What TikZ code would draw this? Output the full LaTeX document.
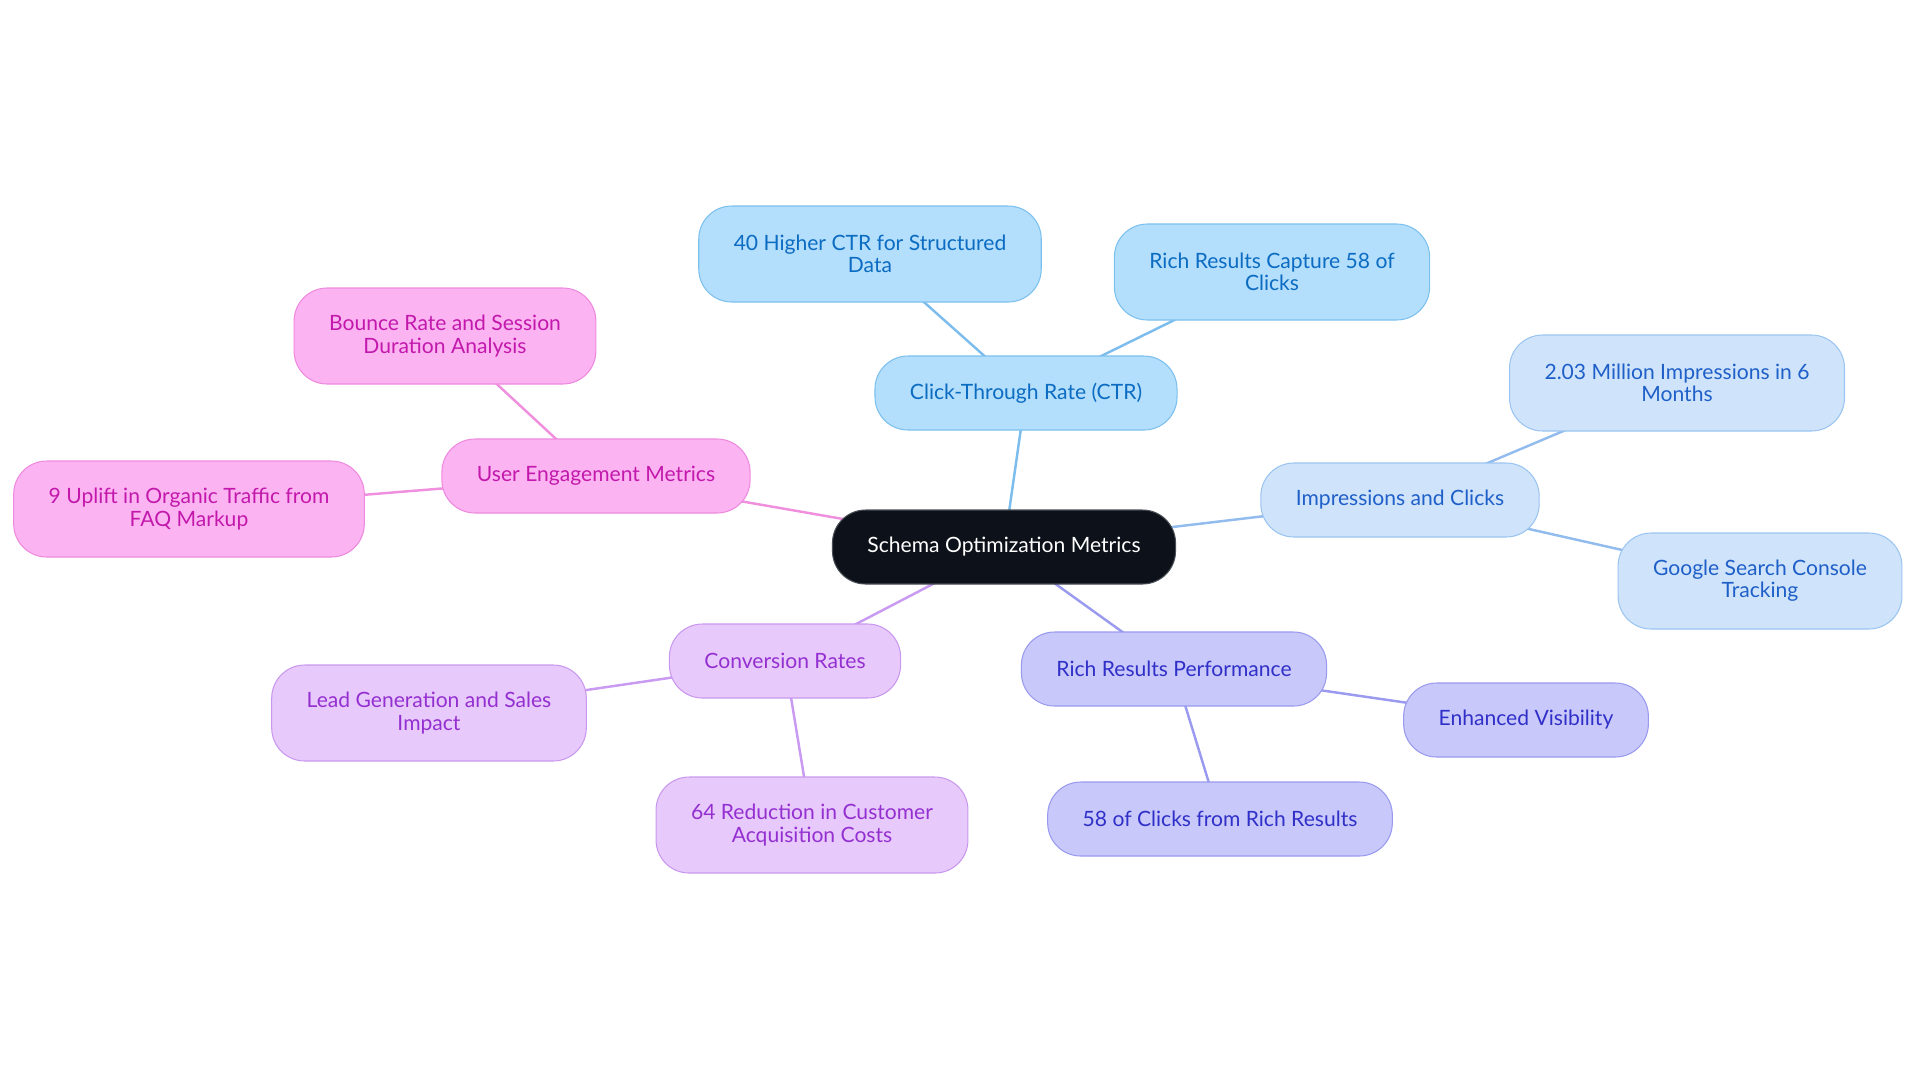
\documentclass[tikz,border=0pt]{standalone}
\usepackage{fontspec}
\setmainfont{Lato}
\usetikzlibrary{backgrounds}

\definecolor{rootfill}{HTML}{0D1119}
\definecolor{rootdraw}{HTML}{4A4F57}
\definecolor{ctrfill}{HTML}{B3DEFC}
\definecolor{ctrdraw}{HTML}{7CC0EE}
\definecolor{ctrtext}{HTML}{0B6CC2}
\definecolor{ctrline}{HTML}{7DBDED}
\definecolor{impfill}{HTML}{CFE4FB}
\definecolor{impdraw}{HTML}{9CC4F0}
\definecolor{imptext}{HTML}{1F5FC8}
\definecolor{impline}{HTML}{92BCEE}
\definecolor{rrpfill}{HTML}{C8C8FB}
\definecolor{rrpdraw}{HTML}{9A9AEE}
\definecolor{rrptext}{HTML}{3030C8}
\definecolor{rrpline}{HTML}{9A9AF0}
\definecolor{convfill}{HTML}{E8C9FC}
\definecolor{convdraw}{HTML}{C998EE}
\definecolor{convtext}{HTML}{9430D0}
\definecolor{convline}{HTML}{C99AF2}
\definecolor{userfill}{HTML}{FCB3F2}
\definecolor{userdraw}{HTML}{EE8ADE}
\definecolor{usertext}{HTML}{C219AC}
\definecolor{userline}{HTML}{EF8FDE}

\begin{document}
\begin{tikzpicture}[
    x=0.02cm, y=-0.02cm,
    metric/.style={rectangle, rounded corners=0.66cm, draw, line width=0.6pt,
        minimum height=1.48cm, inner xsep=0.7cm, align=center,
        font=\fontsize{12}{12.6}\selectfont},
    twoline/.style={minimum height=1.92cm},
    root/.style={metric, fill=rootfill, draw=rootdraw, text=white},
    ctr/.style={metric, fill=ctrfill, draw=ctrdraw, text=ctrtext},
    imp/.style={metric, fill=impfill, draw=impdraw, text=imptext},
    rrp/.style={metric, fill=rrpfill, draw=rrpdraw, text=rrptext},
    conv/.style={metric, fill=convfill, draw=convdraw, text=convtext},
    user/.style={metric, fill=userfill, draw=userdraw, text=usertext},
    link/.style={line width=1.4pt}
]
\useasboundingbox (0,0) rectangle (1920,1083);

% Root
\node[root] (M) at (1004,547) {Schema Optimization Metrics};

% Click-through rate
\node[ctr] (CTR) at (1026,393) {Click-Through Rate (CTR)};
\node[ctr, twoline] (H40) at (870,254) {40 Higher CTR for Structured\\Data};
\node[ctr, twoline] (RC) at (1272,272) {Rich Results Capture 58 of\\Clicks};

% Impressions
\node[imp] (IMP) at (1400,500) {Impressions and Clicks};
\node[imp, twoline] (MIL) at (1677,383) {2.03 Million Impressions in 6\\Months};
\node[imp, twoline] (GSC) at (1760,581) {Google Search Console\\Tracking};

% Rich results
\node[rrp] (RRP) at (1174,669) {Rich Results Performance};
\node[rrp] (VIS) at (1526,720) {Enhanced Visibility};
\node[rrp] (CL58) at (1220,819) {58 of Clicks from Rich Results};

% Conversion
\node[conv] (CONV) at (785,661) {Conversion Rates};
\node[conv, twoline] (LEAD) at (429,713) {Lead Generation and Sales\\Impact};
\node[conv, twoline] (RED) at (812,825) {64 Reduction in Customer\\Acquisition Costs};

% Engagement
\node[user] (USER) at (596,476) {User Engagement Metrics};
\node[user, twoline] (BNC) at (445,336) {Bounce Rate and Session\\Duration Analysis};
\node[user, twoline] (UPL) at (189,509) {9 Uplift in Organic Traffic from\\FAQ Markup};

% Links
\begin{scope}[on background layer]
\path (M.center) edge[link, ctrline] (CTR.center);
\path (CTR.center) edge[link, ctrline] (H40.center);
\path (CTR.center) edge[link, ctrline] (RC.center);
\path (M.center) edge[link, impline] (IMP.center);
\path (IMP.center) edge[link, impline] (MIL.center);
\path (IMP.center) edge[link, impline] (GSC.center);
\path (M.center) edge[link, rrpline] (RRP.center);
\path (RRP.center) edge[link, rrpline] (VIS.center);
\path (RRP.center) edge[link, rrpline] (CL58.center);
\path (M.center) edge[link, convline] (CONV.center);
\path (CONV.center) edge[link, convline] (LEAD.center);
\path (CONV.center) edge[link, convline] (RED.center);
\path (M.center) edge[link, userline] (USER.center);
\path (USER.center) edge[link, userline] (BNC.center);
\path (USER.center) edge[link, userline] (UPL.center);
\end{scope}
\end{tikzpicture}
\end{document}
